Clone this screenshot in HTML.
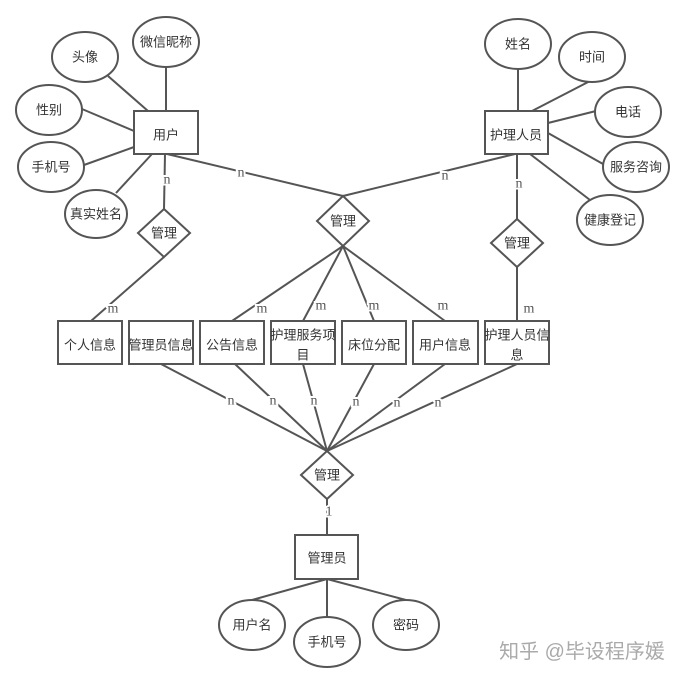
<!DOCTYPE html>
<html><head><meta charset="utf-8"><style>
html,body{margin:0;padding:0;background:#fff;}
svg{display:block;}
text{font-family:"Liberation Sans","Noto Sans CJK SC",sans-serif;font-size:13px;fill:#333;text-anchor:middle;dominant-baseline:central;}
.l{font-family:"Liberation Serif",serif;font-size:14px;fill:#555;stroke:#fff;stroke-width:4px;paint-order:stroke;}
</style></head><body>
<svg width="683" height="679" viewBox="0 0 683 679" xmlns="http://www.w3.org/2000/svg">
<g stroke="#555" stroke-width="2" fill="none">
<line x1="108" y1="76" x2="148" y2="111"/>
<line x1="166" y1="67" x2="166" y2="111"/>
<line x1="82" y1="109" x2="134" y2="131"/>
<line x1="84" y1="165" x2="134" y2="147"/>
<line x1="116" y1="193" x2="152" y2="154"/>
<line x1="518" y1="69" x2="518" y2="111"/>
<line x1="592" y1="80" x2="532" y2="111"/>
<line x1="596" y1="111" x2="548" y2="123"/>
<line x1="603" y1="164" x2="548" y2="133"/>
<line x1="590" y1="200" x2="530" y2="154"/>
<line x1="165" y1="154" x2="164" y2="209"/>
<line x1="167" y1="154" x2="343" y2="196"/>
<line x1="515" y1="154" x2="343" y2="196"/>
<line x1="517" y1="154" x2="517" y2="219"/>
<line x1="517" y1="267" x2="517" y2="321"/>
<line x1="164" y1="257" x2="91" y2="321"/>
<line x1="343" y1="246" x2="232" y2="321"/>
<line x1="343" y1="246" x2="303" y2="321"/>
<line x1="343" y1="246" x2="374" y2="321"/>
<line x1="343" y1="246" x2="445" y2="321"/>
<line x1="161" y1="364" x2="327" y2="451"/>
<line x1="235" y1="364" x2="327" y2="451"/>
<line x1="303" y1="364" x2="327" y2="451"/>
<line x1="374" y1="364" x2="327" y2="451"/>
<line x1="445" y1="364" x2="327" y2="451"/>
<line x1="517" y1="364" x2="327" y2="451"/>
<line x1="327" y1="499" x2="327" y2="535"/>
<line x1="327" y1="579" x2="252" y2="600"/>
<line x1="327" y1="579" x2="327" y2="617"/>
<line x1="327" y1="579" x2="406" y2="600"/>
</g>
<g stroke="#555" stroke-width="2" fill="#fff">
<ellipse cx="85" cy="57" rx="33" ry="25"/>
<ellipse cx="166" cy="42" rx="33" ry="25"/>
<ellipse cx="49" cy="110" rx="33" ry="25"/>
<ellipse cx="51" cy="167" rx="33" ry="25"/>
<ellipse cx="96" cy="214" rx="31" ry="24"/>
<ellipse cx="518" cy="44" rx="33" ry="25"/>
<ellipse cx="592" cy="57" rx="33" ry="25"/>
<ellipse cx="628" cy="112" rx="33" ry="25"/>
<ellipse cx="636" cy="167" rx="33" ry="25"/>
<ellipse cx="610" cy="220" rx="33" ry="25"/>
<ellipse cx="252" cy="625" rx="33" ry="25"/>
<ellipse cx="327" cy="642" rx="33" ry="25"/>
<ellipse cx="406" cy="625" rx="33" ry="25"/>
<rect x="134" y="111" width="64" height="43"/>
<rect x="485" y="111" width="63" height="43"/>
<rect x="58" y="321" width="64" height="43"/>
<rect x="129" y="321" width="64" height="43"/>
<rect x="200" y="321" width="64" height="43"/>
<rect x="271" y="321" width="64" height="43"/>
<rect x="342" y="321" width="64" height="43"/>
<rect x="413" y="321" width="65" height="43"/>
<rect x="485" y="321" width="64" height="43"/>
<rect x="295" y="535" width="63" height="44"/>
<polygon points="164,209 190,233 164,257 138,233"/>
<polygon points="343,196 369,221 343,246 317,221"/>
<polygon points="517,219 543,243 517,267 491,243"/>
<polygon points="327,451 353,475 327,499 301,475"/>
</g>
<text x="85" y="57">头像</text>
<text x="166" y="42">微信昵称</text>
<text x="49" y="110">性别</text>
<text x="51" y="167">手机号</text>
<text x="96" y="214">真实姓名</text>
<text x="518" y="44">姓名</text>
<text x="592" y="57">时间</text>
<text x="628" y="112">电话</text>
<text x="636" y="167">服务咨询</text>
<text x="610" y="220">健康登记</text>
<text x="252" y="625">用户名</text>
<text x="327" y="642">手机号</text>
<text x="406" y="625">密码</text>
<text x="166" y="135">用户</text>
<text x="516" y="135">护理人员</text>
<text x="90" y="345">个人信息</text>
<text x="161" y="345">管理员信息</text>
<text x="232" y="345">公告信息</text>
<text x="303" y="335">护理服务项</text>
<text x="303" y="355">目</text>
<text x="374" y="345">床位分配</text>
<text x="445" y="345">用户信息</text>
<text x="517" y="335">护理人员信</text>
<text x="517" y="355">息</text>
<text x="327" y="558">管理员</text>
<text x="164" y="233">管理</text>
<text x="343" y="221">管理</text>
<text x="517" y="243">管理</text>
<text x="327" y="475">管理</text>
<text class="l" x="167" y="180">n</text>
<text class="l" x="241" y="173">n</text>
<text class="l" x="445" y="176">n</text>
<text class="l" x="519" y="184">n</text>
<text class="l" x="113" y="309">m</text>
<text class="l" x="262" y="309">m</text>
<text class="l" x="321" y="306">m</text>
<text class="l" x="374" y="306">m</text>
<text class="l" x="443" y="306">m</text>
<text class="l" x="529" y="309">m</text>
<text class="l" x="231" y="401">n</text>
<text class="l" x="273" y="401">n</text>
<text class="l" x="314" y="401">n</text>
<text class="l" x="356" y="402">n</text>
<text class="l" x="397" y="403">n</text>
<text class="l" x="438" y="403">n</text>
<text class="l" x="329" y="512">1</text>
<text x="582" y="652" style="font-size:20px;fill:#aaa;">知乎 @毕设程序媛</text>
</svg>
</body></html>
